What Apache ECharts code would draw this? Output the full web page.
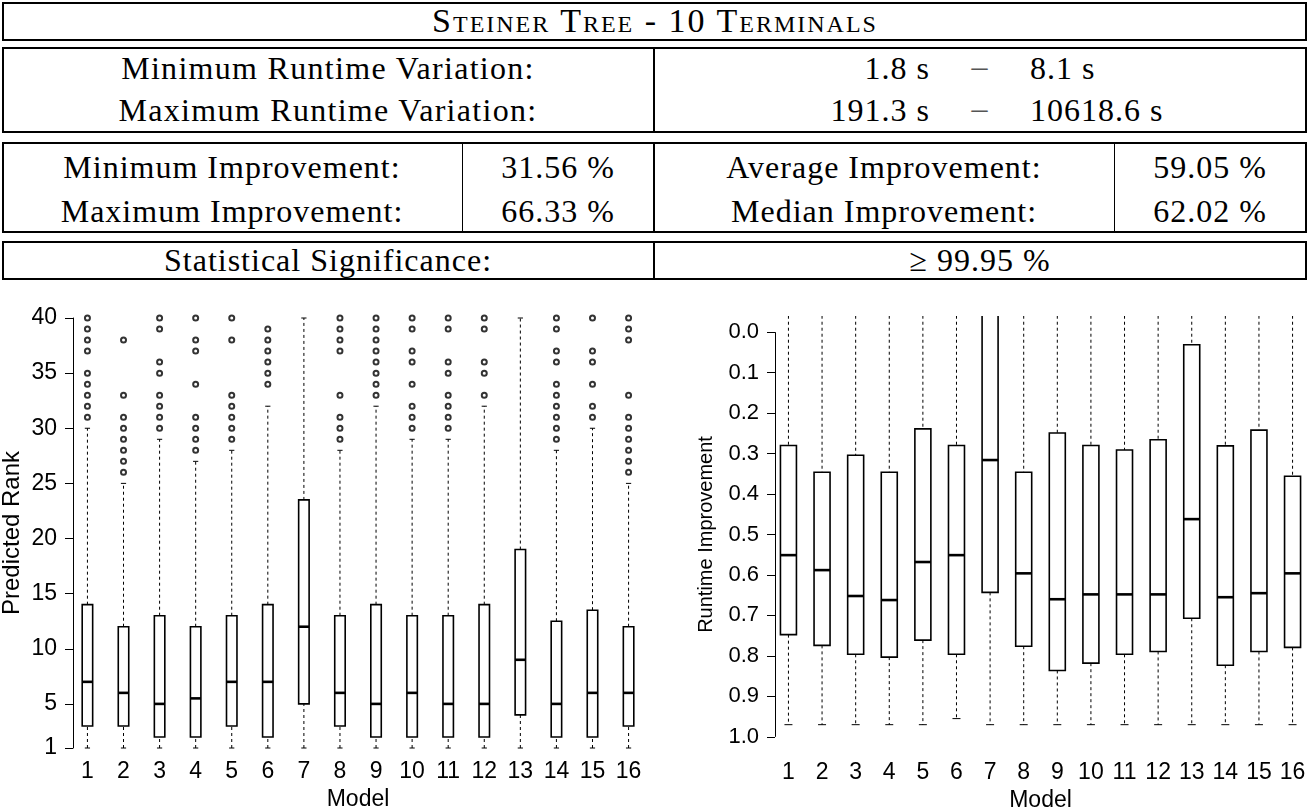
<!DOCTYPE html>
<html>
<head>
<meta charset="utf-8">
<script src="https://cdn.jsdelivr.net/npm/echarts@6/dist/echarts.min.js"></script>
<style>
  html, body { margin: 0; padding: 0; background: #fff; }
  #page { position: relative; width: 1310px; height: 807px; overflow: hidden; }
  #chart { position: absolute; left: 0; top: 0; width: 1310px; height: 807px; }
  .box { position: absolute; border: 2px solid #000; box-sizing: border-box; background: #fff; }
  .vline { position: absolute; background: #000; }
  .txt {
    position: absolute; white-space: nowrap; color: #000;
    font-family: "Liberation Serif", "DejaVu Serif", serif;
    font-size: 32px; letter-spacing: 1px; line-height: 1;
    transform: translate(-50%, -50%);
  }
  .txt.r { transform: translate(-100%, -50%); }
  .txt.l { transform: translate(0, -50%); }
  .txt.wide { letter-spacing: 1.3px; }
  .txt.dash { color: #555; }
  .title { font-variant: small-caps; font-size: 34px; letter-spacing: 2px; }
</style>
</head>
<body>
<div id="page">
  <div id="chart"></div>
  <div id="table"></div>
</div>
<script>
// ---- table texts ----
const titleText = 'Steiner Tree - 10 Terminals'
const variationLabels = ['Minimum Runtime Variation:', 'Maximum Runtime Variation:']
const variationFrom = ['1.8 s', '191.3 s']
const variationTo = ['8.1 s', '10618.6 s']
const improvementLabelsLeft = ['Minimum Improvement:', 'Maximum Improvement:']
const improvementValuesLeft = ['31.56 %', '66.33 %']
const improvementLabelsRight = ['Average Improvement:', 'Median Improvement:']
const improvementValuesRight = ['59.05 %', '62.02 %']
const significanceLabel = 'Statistical Significance:'
const significanceValue = '\u2265 99.95 %'

// ---- chart data ----
const models = [1, 2, 3, 4, 5, 6, 7, 8, 9, 10, 11, 12, 13, 14, 15, 16]

// Predicted Rank (left)
const rankLow = [1, 1, 1, 1, 1, 1, 1, 1, 1, 1, 1, 1, 1, 1, 1, 1]
const rankQ1 = [3, 3, 2, 2, 3, 2, 5, 3, 2, 2, 2, 2, 4, 2, 2, 3]
const rankMedian = [7, 6, 5, 5.5, 7, 7, 12, 6, 5, 6, 5, 5, 9, 5, 6, 6]
const rankQ3 = [14, 12, 13, 12, 13, 14, 23.5, 13, 14, 13, 13, 14, 19, 12.5, 13.5, 12]
const rankHigh = [30, 25, 29, 27, 28, 32, 40, 28, 32, 29, 29, 32, 40, 28, 30, 25]
const rankOutliers = [
  [31, 32, 33, 34, 35, 37, 38, 39, 40],
  [26, 27, 28, 29, 30, 31, 33, 38],
  [30, 31, 32, 33, 35, 36, 39, 40],
  [28, 29, 30, 31, 34, 37, 38, 40],
  [29, 30, 31, 32, 33, 38, 40],
  [34, 35, 36, 37, 38, 39],
  [],
  [29, 30, 31, 33, 37, 38, 39, 40],
  [33, 34, 35, 36, 37, 38, 39, 40],
  [30, 31, 32, 34, 36, 37, 39, 40],
  [30, 31, 32, 33, 35, 36, 39, 40],
  [33, 35, 36, 39, 40],
  [],
  [29, 30, 31, 32, 33, 34, 36, 37, 39, 40],
  [31, 32, 34, 36, 37, 40],
  [26, 27, 28, 29, 30, 31, 33, 38, 39, 40]
]
const rankTicks = [1, 5, 10, 15, 20, 25, 30, 35, 40]

// Runtime Improvement (right, inverted axis); whisker tops run past the plot top
const impLow = [-0.1, -0.1, -0.1, -0.1, -0.1, -0.1, -0.1, -0.1, -0.1, -0.1, -0.1, -0.1, -0.1, -0.1, -0.1, -0.1]
const impQ1 = [0.28, 0.346, 0.304, 0.346, 0.239, 0.28, -0.1, 0.346, 0.249, 0.28, 0.291, 0.266, 0.031, 0.281, 0.242, 0.356]
const impMedian = [0.551, 0.588, 0.652, 0.662, 0.568, 0.551, 0.316, 0.596, 0.66, 0.648, 0.648, 0.648, 0.462, 0.655, 0.645, 0.596]
const impQ3 = [0.7475, 0.774, 0.796, 0.803, 0.761, 0.796, 0.643, 0.776, 0.836, 0.818, 0.796, 0.789, 0.707, 0.823, 0.789, 0.779]
const impHigh = [0.97, 0.97, 0.97, 0.97, 0.97, 0.955, 0.97, 0.97, 0.97, 0.97, 0.97, 0.97, 0.97, 0.97, 0.97, 0.97]
const impTicks = [0, 0.1, 0.2, 0.3, 0.4, 0.5, 0.6, 0.7, 0.8, 0.9, 1.0]

// ---- table ----
const table = document.getElementById('table')

function addBox (x, y, w, h) {
  const d = document.createElement('div')
  d.className = 'box'
  Object.assign(d.style, { left: x + 'px', top: y + 'px', width: w + 'px', height: h + 'px' })
  table.appendChild(d)
}
function addVLine (x, y, h, w) {
  const d = document.createElement('div')
  d.className = 'vline'
  Object.assign(d.style, { left: x + 'px', top: y + 'px', width: (w || 1) + 'px', height: h + 'px' })
  table.appendChild(d)
}
function addText (text, x, y, cls) {
  const d = document.createElement('div')
  d.className = 'txt' + (cls ? ' ' + cls : '')
  d.textContent = text
  Object.assign(d.style, { left: x + 'px', top: y + 'px' })
  table.appendChild(d)
}

addBox(2, 2, 1305, 39)
addText(titleText, 655, 21, 'title')

addBox(2, 47, 1305, 86)
addVLine(653, 47, 86, 2)
variationLabels.forEach((t, i) => addText(t, 328, 68 + i * 42, 'wide'))
variationFrom.forEach((t, i) => addText(t, 930, 68 + i * 42, 'r'))
variationTo.forEach((t, i) => addText(t, 1030, 68 + i * 42, 'l'))
variationFrom.forEach((t, i) => addText('\u2013', 980, 66 + i * 42, 'dash'))

addBox(2, 142, 1305, 91)
addVLine(653, 142, 91, 2)
addVLine(462, 142, 91, 1)
addVLine(1114, 142, 91, 1)
improvementLabelsLeft.forEach((t, i) => addText(t, 232, 167 + i * 44))
improvementValuesLeft.forEach((t, i) => addText(t, 558, 167 + i * 44))
improvementLabelsRight.forEach((t, i) => addText(t, 884, 167 + i * 44))
improvementValuesRight.forEach((t, i) => addText(t, 1210, 167 + i * 44))

addBox(2, 241, 1305, 39)
addVLine(653, 241, 39, 2)
addText(significanceLabel, 328, 260)
addText(significanceValue, 980, 260)

// ---- charts ----
const chart = echarts.init(document.getElementById('chart'))
const FONT = '"Liberation Sans", Arial, sans-serif'

function boxRenderer (halfWidth) {
  return function (params, api) {
    const x = api.value(0)
    const med = api.value(3)
    const cx = api.coord([x, med])[0]
    const xl = api.coord([x - halfWidth, med])[0]
    const xr = api.coord([x + halfWidth, med])[0]
    const capL = api.coord([x - halfWidth / 2, med])[0]
    const capR = api.coord([x + halfWidth / 2, med])[0]
    const yLow = api.coord([x, api.value(1)])[1]
    const yQ1 = api.coord([x, api.value(2)])[1]
    const yMed = api.coord([x, med])[1]
    const yQ3 = api.coord([x, api.value(4)])[1]
    const yHigh = api.coord([x, api.value(5)])[1]
    const dash = { stroke: '#000', lineWidth: 1, lineDash: [3, 3] }
    const solid = { stroke: '#000', lineWidth: 1 }
    return {
      type: 'group',
      children: [
        { type: 'line', shape: { x1: cx, y1: yLow, x2: cx, y2: yQ1 }, style: dash },
        { type: 'line', shape: { x1: cx, y1: yQ3, x2: cx, y2: yHigh }, style: dash },
        { type: 'line', shape: { x1: capL, y1: yLow, x2: capR, y2: yLow }, style: solid },
        { type: 'line', shape: { x1: capL, y1: yHigh, x2: capR, y2: yHigh }, style: solid },
        {
          type: 'rect',
          shape: { x: xl, y: Math.min(yQ1, yQ3), width: xr - xl, height: Math.abs(yQ3 - yQ1) },
          style: { fill: '#fff', stroke: '#000', lineWidth: 1.6 }
        },
        { type: 'line', shape: { x1: xl, y1: yMed, x2: xr, y2: yMed }, style: { stroke: '#000', lineWidth: 2.6 } }
      ]
    }
  }
}

const rankBoxes = models.map((m, i) => [m, rankLow[i], rankQ1[i], rankMedian[i], rankQ3[i], rankHigh[i]])
const impBoxes = models.map((m, i) => [m, impLow[i], impQ1[i], impMedian[i], impQ3[i], impHigh[i]])
const rankPoints = []
rankOutliers.forEach((list, i) => list.forEach(v => rankPoints.push([models[i], v])))

function xAxisFor (gridIndex, margin, nameGap) {
  return {
    type: 'value',
    gridIndex: gridIndex,
    min: 0.6,
    max: 16.4,
    axisLine: { show: false },
    axisTick: { show: false },
    splitLine: { show: false },
    axisLabel: { customValues: models, color: '#000', fontSize: 23, fontFamily: FONT, margin: margin },
    name: 'Model',
    nameLocation: 'middle',
    nameGap: nameGap,
    nameTextStyle: { color: '#000', fontSize: 23, fontFamily: FONT }
  }
}

const option = {
  animation: false,
  backgroundColor: '#fff',
  grid: [
    { left: 73, top: 318, width: 570, height: 430, containLabel: false, outerBoundsMode: 'none' },
    { left: 775, top: 316, width: 531, height: 437, containLabel: false, outerBoundsMode: 'none' }
  ],
  xAxis: [xAxisFor(0, 12, 37), xAxisFor(1, 8, 33)],
  yAxis: [
    {
      type: 'value',
      gridIndex: 0,
      min: 1,
      max: 40,
      axisLine: { show: true, lineStyle: { color: '#000', width: 1 } },
      axisTick: { show: true, customValues: rankTicks, length: 8, lineStyle: { color: '#000' } },
      axisLabel: { customValues: rankTicks, color: '#000', fontSize: 23, fontFamily: FONT, margin: 16 },
      splitLine: { show: false },
      name: 'Predicted Rank',
      nameLocation: 'middle',
      nameGap: 49,
      nameTextStyle: { color: '#000', fontSize: 24, fontFamily: FONT }
    },
    {
      type: 'value',
      gridIndex: 1,
      inverse: true,
      min: -0.04,
      max: 1.04,
      axisLine: { show: false },
      axisTick: { show: true, customValues: impTicks, length: 8, lineStyle: { color: '#000' } },
      axisLabel: {
        customValues: impTicks,
        color: '#000',
        fontSize: 22,
        fontFamily: FONT,
        margin: 16,
        formatter: v => v.toFixed(1)
      },
      splitLine: { show: false },
      name: 'Runtime Improvement',
      nameLocation: 'middle',
      nameGap: 59,
      nameTextStyle: { color: '#000', fontSize: 20, fontFamily: FONT }
    }
  ],
  series: [
    {
      type: 'custom',
      name: 'rank',
      xAxisIndex: 0,
      yAxisIndex: 0,
      clip: false,
      renderItem: boxRenderer(0.145),
      encode: { x: 0, y: [1, 2, 3, 4, 5] },
      data: rankBoxes
    },
    {
      type: 'scatter',
      name: 'rank outliers',
      xAxisIndex: 0,
      yAxisIndex: 0,
      symbol: 'emptyCircle',
      symbolSize: 5,
      itemStyle: { color: '#000', borderColor: '#000', borderWidth: 0.8 },
      data: rankPoints
    },
    {
      type: 'custom',
      name: 'improvement',
      xAxisIndex: 1,
      yAxisIndex: 1,
      clip: true,
      renderItem: boxRenderer(0.238),
      encode: { x: 0, y: [1, 2, 3, 4, 5] },
      data: impBoxes
    },
    {
      // y axis line, drawn only between the first and last tick
      type: 'custom',
      name: 'improvement axis',
      xAxisIndex: 1,
      yAxisIndex: 1,
      clip: false,
      silent: true,
      renderItem: function (params, api) {
        const x = params.coordSys.x + 0.5
        const y1 = api.coord([1, impTicks[0]])[1]
        const y2 = api.coord([1, impTicks[impTicks.length - 1]])[1]
        return { type: 'line', shape: { x1: x, y1: y1, x2: x, y2: y2 }, style: { stroke: '#000', lineWidth: 1 } }
      },
      data: [[1, 0]]
    }
  ]
}

chart.setOption(option)
</script>
</body>
</html>
